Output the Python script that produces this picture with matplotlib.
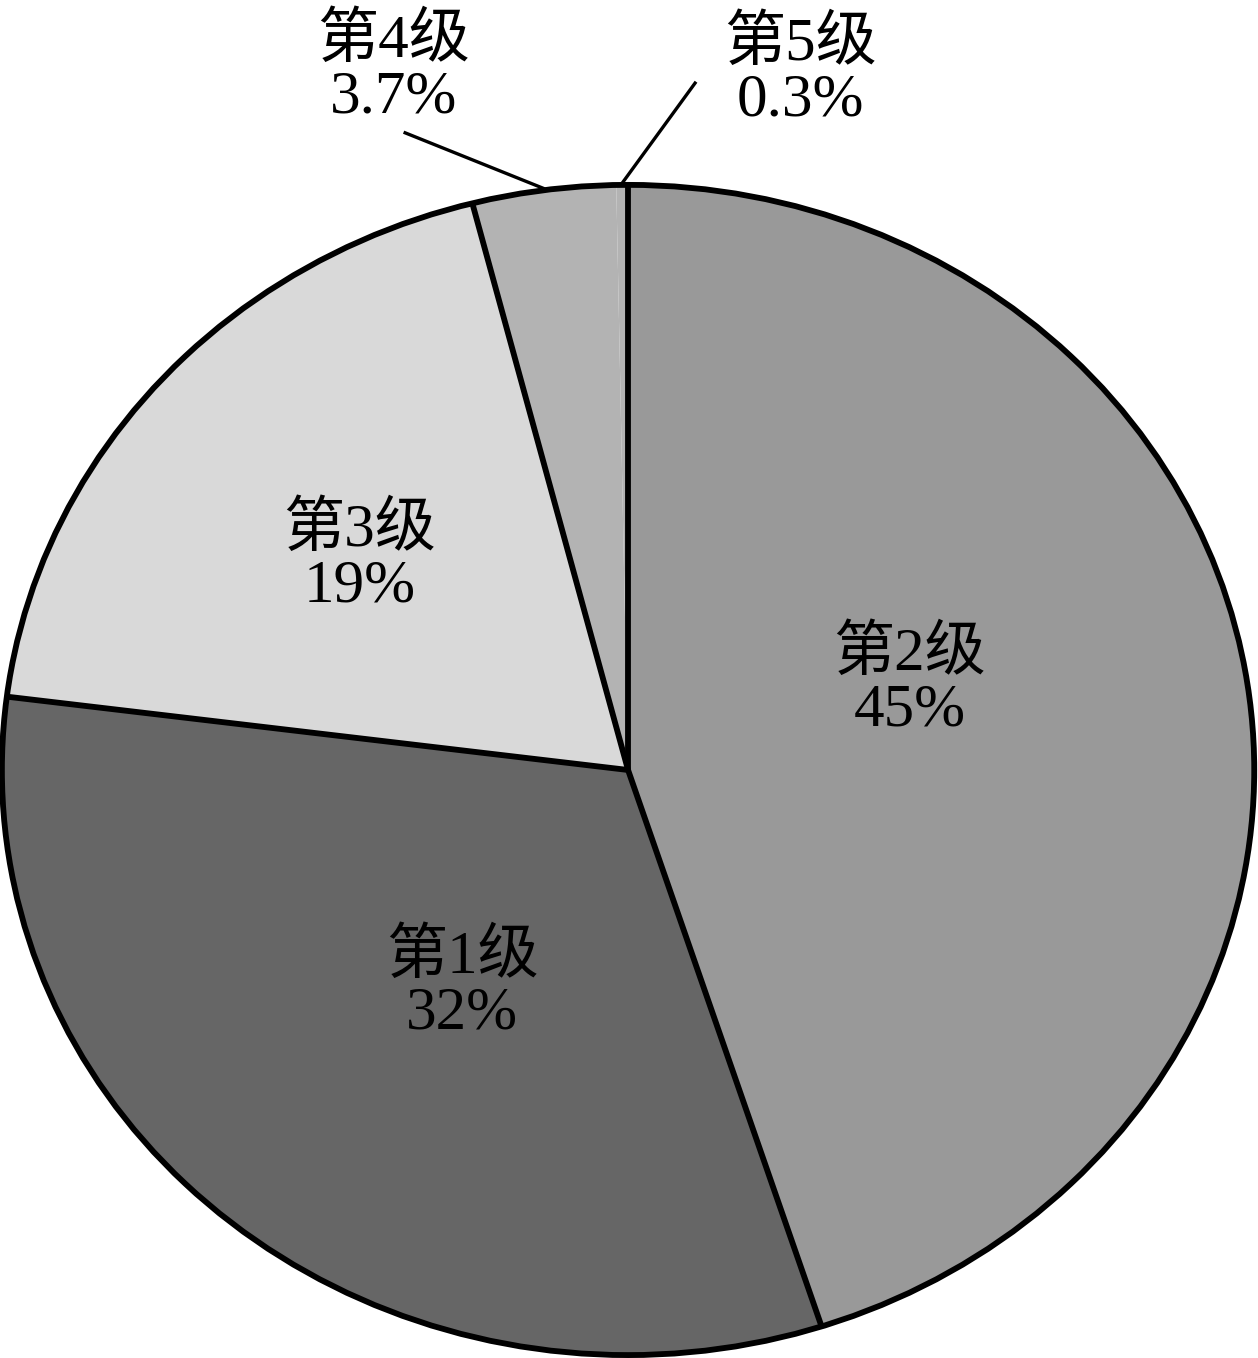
import numpy as np
import matplotlib
matplotlib.use('Agg')
import matplotlib.pyplot as plt
from matplotlib.patches import Circle

plt.rcParams['font.family'] = ['Liberation Serif', 'Noto Sans CJK SC', 'DejaVu Sans']

# data
levels = ['第1级', '第2级', '第3级', '第4级', '第5级']
shares = [32, 45, 19, 3.7, 0.3]
share_text = ['32%', '45%', '19%', '3.7%', '0.3%']
colors = ['#666666', '#999999', '#d9d9d9', '#b3b3b3', '#b3b3b3']

# drawing order: clockwise from top starting with 第2级
order = [1, 0, 2, 3, 4]
vals = [shares[i] for i in order]
cols = [colors[i] for i in order]

fig = plt.figure(figsize=(12.58, 13.58), dpi=100)
ax = fig.add_axes([0, 0, 1, 1])

wedges, _ = ax.pie(vals, colors=cols, startangle=90, counterclock=False,
                   radius=1, wedgeprops=dict(linewidth=0))
ax.set_aspect('auto')
ax.set_xlim(-1.003, 1.006)
ax.set_ylim(-1.005, 1.316)
ax.axis('off')

# boundaries at the start edge of each wedge (the 第4/第5 split is too thin to show)
for k, w in enumerate(wedges):
    if order[k] == 4:
        continue
    a = np.deg2rad(w.theta2)
    ax.plot([0, np.cos(a)], [0, np.sin(a)], color='black', lw=4.2,
            solid_capstyle='butt', zorder=3)
ax.add_patch(Circle((0, 0), 1, fill=False, ec='black', lw=4.2, zorder=3))

fs = 44
# inside labels
inside = {0: (-0.265, -0.368), 1: (0.450, 0.149), 2: (-0.428, 0.361)}
for i, (x, y) in inside.items():
    ax.text(x, y, levels[i] + '\n' + share_text[i], ha='center', va='center',
            fontsize=fs, linespacing=1.0, zorder=4)

# outside labels with leader lines
outside = {3: ((-0.375, 1.197), (-0.356, 1.089)),
           4: ((0.275, 1.193), (0.107, 1.174))}
for k, w in enumerate(wedges):
    i = order[k]
    if i not in outside:
        continue
    (tx, ty), (lx, ly) = outside[i]
    mid = np.deg2rad((w.theta1 + w.theta2) / 2)
    ax.plot([lx, np.cos(mid)], [ly, np.sin(mid) * 1.003], color='black', lw=2.4, zorder=3)
    ax.text(tx, ty, levels[i] + '\n' + share_text[i], ha='center', va='center',
            fontsize=fs, linespacing=1.0, zorder=4)

fig.savefig('out.png', dpi=100, facecolor='white')
